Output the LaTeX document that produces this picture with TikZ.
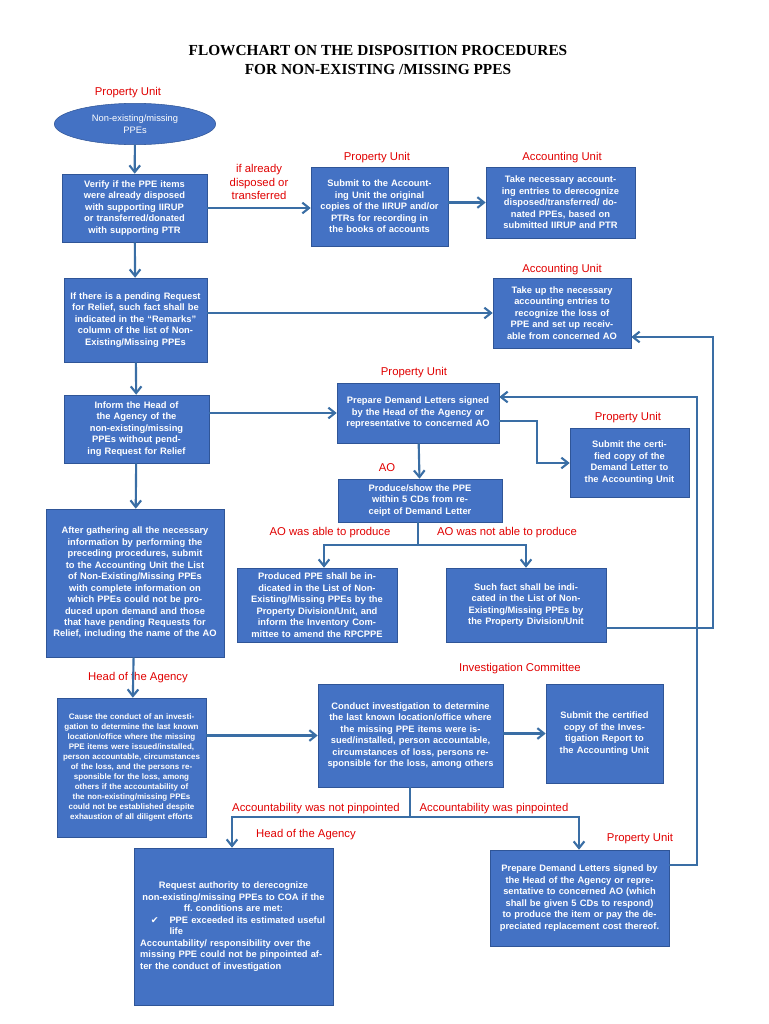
\documentclass[tikz,border=0pt]{standalone}
\usepackage{fontspec}
\setmainfont{Liberation Sans}
\newfontfamily\titlefont{Liberation Serif}
\usetikzlibrary{arrows.meta,shapes.geometric}
\definecolor{bx}{HTML}{4472C4}
\definecolor{bd}{HTML}{2F5597}
\definecolor{ar}{HTML}{3A6EA5}
\definecolor{rd}{HTML}{E00000}
\begin{document}
\begin{tikzpicture}[x=0.75pt,y=-0.75pt,
  box/.style={draw=bd,fill=bx,text=white,font=\fontsize{7}{8.6}\selectfont\bfseries,align=center,inner sep=2pt},
  lab/.style={text=rd,font=\fontsize{8.5}{10}\selectfont,align=center},
  arr/.style={draw=ar,line width=1.6pt,-{Straight Barb[length=5pt,width=8pt]}},
  ln/.style={draw=ar,line width=1.6pt}]
\useasboundingbox (0,0) rectangle (768,1024);
\node[font=\titlefont\fontsize{11.5}{14}\selectfont\bfseries,align=center] (title) at (378,60) {FLOWCHART ON THE DISPOSITION PROCEDURES\\FOR NON-EXISTING /MISSING PPES};
% boxes: center, sizes in px
\newcommand{\bxnode}[6]{\node[box,minimum width=#4*0.75pt,minimum height=#5*0.75pt,text width=#4*0.75pt-8pt] (#1) at (#2,#3) {#6};}
\node[ellipse,draw=bd,fill=bx,text=white,font=\fontsize{7}{8.6}\selectfont,align=center,minimum width=121pt,minimum height=31pt] (ell) at (135,124) {Non-existing/missing\\PPEs};
\node[lab] (l1) at (128,93) {Property Unit};
\bxnode{verify}{134.5}{208}{145}{68}{Verify if the PPE items were already disposed with supporting IIRUP or transferred/donated with supporting PTR}
\bxnode{submit}{379.5}{206.5}{137}{79}{Submit to the Accounting Unit the original copies of the IIRUP and/or PTRs for recording in the books of accounts}
\node[lab] (l2) at (377,158) {Property Unit};
\bxnode{take}{560.5}{202.5}{149}{71}{Take necessary accounting entries to derecognize disposed/transferred/ donated PPEs, based on submitted IIRUP and PTR}
\node[lab] (l3) at (562,158) {Accounting Unit};
\node[lab] (l4) at (259,182) {if already\\disposed or\\transferred};
\bxnode{pend}{135.5}{320}{143}{84}{If there is a pending Request for Relief, such fact shall be indicated in the ``Remarks'' column of the list of Non-Existing/Missing PPEs}
\bxnode{takeup}{562}{313}{138}{70}{Take up the necessary accounting entries to recognize the loss of PPE and set up receivable from concerned AO}
\node[lab] (l5) at (562,270) {Accounting Unit};
\bxnode{inform}{136.5}{429}{145}{68}{Inform the Head of the Agency of the non-existing/missing PPEs without pending Request for Relief}
\bxnode{prep}{418}{413}{162}{60}{Prepare Demand Letters signed by the Head of the Agency or representative to concerned AO}
\node[lab] (l6) at (414,373) {Property Unit};
\bxnode{cert}{629.5}{462.5}{119}{69}{Submit the certified copy of the Demand Letter to the Accounting Unit}
\node[lab] (l7) at (628,418) {Property Unit};
\bxnode{prod}{420}{500.5}{164}{43}{Produce/show the PPE within 5 CDs from receipt of Demand Letter}
\node[lab] (l8) at (387,468) {AO};
\bxnode{produced}{317}{605}{160}{74}{Produced PPE shall be indicated in the List of Non-Existing/Missing PPEs by the Property Division/Unit, and inform the Inventory Committee to amend the RPCPPE}
\bxnode{such}{526}{605}{160}{74}{Such fact shall be indicated in the List of Non-Existing/Missing PPEs by the Property Division/Unit}
\node[lab] (l9) at (330,533) {AO was able to produce};
\node[lab] (l10) at (507,533) {AO was not able to produce};
\bxnode{gather}{135}{583}{178}{148}{After gathering all the necessary information by performing the preceding procedures, submit to the Accounting Unit the List of Non-Existing/Missing PPEs with complete information on which PPEs could not be produced upon demand and those that have pending Requests for Relief, including the name of the AO}
\node[lab] (l11) at (138,678) {Head of the Agency};
\node[box,font=\fontsize{6}{7.5}\selectfont\bfseries,minimum width=111.75pt,minimum height=104.25pt,text width=104pt] (cause) at (131.5,767.5) {Cause the conduct of an investigation to determine the last known location/office where the missing PPE items were issued/installed, person accountable, circumstances of the loss, and the persons responsible for the loss, among others if the accountability of the non-existing/missing PPEs could not be established despite exhaustion of all diligent efforts};
\bxnode{conduct}{410.5}{735.5}{185}{103}{Conduct investigation to determine the last known location/office where the missing PPE items were issued/installed, person accountable, circumstances of loss, persons responsible for the loss, among others}
\node[lab] (l12) at (520,669) {Investigation Committee};
\bxnode{rep}{604.5}{733.5}{117}{99}{Submit the certified copy of the Investigation Report to the Accounting Unit}
\node[lab] (l13) at (316,809) {Accountability was not pinpointed};
\node[lab] (l14) at (494,809) {Accountability was pinpointed};
\node[lab] (l15) at (306,835) {Head of the Agency};
\node[lab] (l16) at (640,839) {Property Unit};
\node[box,align=left,minimum width=149.25pt,minimum height=117.75pt,text width=140pt] (req) at (233.5,926.5) {\centering Request authority to derecognize non-existing/missing PPEs to COA if the ff.\ conditions are met:\par
\raggedright\leftskip=22pt\parindent=-14pt
\makebox[14pt][l]{\fontspec{DejaVu Sans}\char"2714}PPE exceeded its estimated useful life\par
\makebox[14pt][l]{\fontspec{DejaVu Sans}\char"2714}Accountability/ responsibility over the missing PPE could not be pinpointed after the conduct of investigation};
\bxnode{prep2}{579.5}{898}{179}{96}{Prepare Demand Letters signed by the Head of the Agency or representative to concerned AO (which shall be given 5 CDs to respond) to produce the item or pay the depreciated replacement cost thereof.}
% connectors
\draw[arr] (ell) -- (verify);
\draw[arr] (verify) -- (pend);
\draw[arr] (pend) -- (inform);
\draw[arr] (inform) -- (gather);
\draw[arr] (gather) -- (cause);
\draw[arr] (verify.east) -- (submit.west|-verify.east);
\draw[arr] (submit.east|-take.west) -- (take.west);
\draw[arr] (pend.east|-takeup.west) -- (takeup.west);
\draw[arr] (inform.east|-prep.west) -- (prep.west);
\coordinate (c1) at (537,421); \coordinate (c2) at (537,463);
\draw[arr] (prep.east|-c1) -- (c1) -- (c2) -- (cert.west|-c2);
\draw[arr] (prep) -- (prod);
\coordinate (b0) at (418,545); \coordinate (bl) at (324,545); \coordinate (br) at (526,545);
\draw[ln] (prod.south-|b0) -- (b0);
\draw[arr] (b0) -- (bl) -- (produced.north-|bl);
\draw[arr] (b0) -- (br) -- (such.north-|br);
\coordinate (d1) at (713,628); \coordinate (d2) at (713,337);
\draw[arr] (such.east|-d1) -- (d1) -- (d2) -- (takeup.east|-d2);
\coordinate (e1) at (697,865); \coordinate (e2) at (697,397);
\draw[arr] (prep2.east|-e1) -- (e1) -- (e2) -- (prep.east|-e2);
\draw[arr] (cause.east|-conduct.west) -- (conduct.west);
\draw[arr] (conduct.east|-rep.west) -- (rep.west);
\coordinate (f0) at (410,817); \coordinate (fl) at (232,817); \coordinate (fr) at (579,817);
\draw[ln] (conduct.south-|f0) -- (f0);
\draw[arr] (f0) -- (fl) -- (req.north-|fl);
\draw[arr] (f0) -- (fr) -- (prep2.north-|fr);
\end{tikzpicture}
\end{document}
